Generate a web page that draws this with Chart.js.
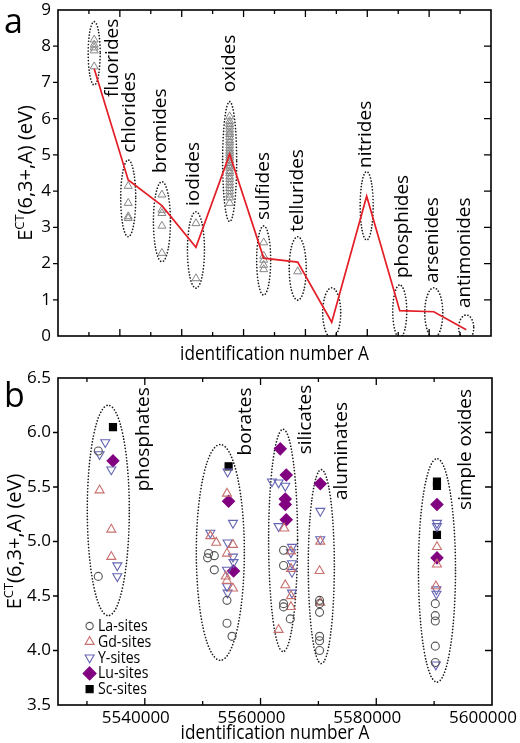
<!DOCTYPE html>
<html>
<head>
<meta charset="utf-8">
<title>Charge-transfer energies</title>
<script src="https://cdn.jsdelivr.net/npm/chart.js@4.4.0/dist/chart.umd.min.js"></script>
<style>
  html, body { margin: 0; padding: 0; background: #fff; }
  #wrap { position: relative; width: 520px; height: 743px; }
  #chartA { position: absolute; left: 0; top: 0; }
  #chartB { position: absolute; left: 0; top: 370px; }
</style>
</head>
<body>
<div id="wrap">
  <canvas id="chartA" width="520" height="370"></canvas>
  <canvas id="chartB" width="520" height="373"></canvas>
</div>
<script>
const FONT = "'Open Sans', 'DejaVu Sans', sans-serif";

// ---- panel a: E_CT per anion family ----
const anionGroups = ['fluorides', 'chlorides', 'bromides', 'iodides', 'oxides', 'sulfides',
  'tellurides', '', 'nitrides', 'phosphides', 'arsenides', 'antimonides'];
const anionA = [1.17, 2.27, 3.36, 4.46, 5.55, 6.65, 7.75, 8.85, 9.98, 11.05, 12.15, 13.2];
const meanEct = [7.38, 4.31, 3.60, 2.45, 5.02, 2.15, 2.04, 0.38, 3.86, 0.70, 0.67, 0.17];

const fluorideEct = [8.18, 8.04, 7.96, 7.88, 7.44];
const chlorideEct = [4.14, 3.67, 3.30, 3.25];
const bromideEct = [3.90, 3.48, 3.39, 3.04, 2.29];
const iodideEct = [3.11, 1.59];
const oxideEct = [6.06, 5.93, 5.85, 5.78, 5.70, 5.62, 5.57, 5.49, 5.40, 5.34, 5.26, 5.18,
  5.11, 5.05, 4.98, 4.92, 4.85, 4.77, 4.70, 4.64, 4.55, 4.49, 4.40, 4.33, 4.24, 4.16,
  4.08, 3.99, 3.90, 3.82, 3.67];
const sulfideEct = [2.58, 2.21, 2.10, 1.96, 1.84];
const tellurideEct = [1.78];
const groupEct = [fluorideEct, chlorideEct, bromideEct, iodideEct, oxideEct, sulfideEct,
  tellurideEct, [], [], [], [], []];

// dotted loops round each family (top / bottom in eV)
const loopTopA = [8.68, 4.86, 4.26, 3.43, 6.47, 3.04, 2.74, 1.33, 4.54, 1.41, 1.33, 0.58];
const loopBottomA = [6.93, 2.74, 2.05, 1.32, 3.16, 1.13, 0.99, -0.05, 2.65, -0.05, -0.05, -0.12];

// ---- panel b: E_CT of oxide hosts by cation site ----
const hostGroups = ['phosphates', 'borates', 'silicates', 'aluminates', 'simple oxides'];
const hostA = [5533690, 5553050, 5563900, 5570500, 5590490];
const loopTopB = [6.25, 5.89, 6.03, 5.66, 5.76];
const loopBottomB = [4.32, 3.91, 3.99, 3.88, 3.71];
const xTicksB = [5530000, 5540000, 5550000, 5560000, 5570000, 5580000, 5590000, 5600000];
const xTickLabelsB = ['5540000', '5560000', '5580000', '5600000'];
const siteNames = ['La-sites', 'Gd-sites', 'Y-sites', 'Lu-sites', 'Sc-sites'];

const laSites = [[5531960, 5.83], [5531960, 4.68],
  [5551020, 4.89], [5552010, 4.87], [5550850, 4.85], [5552010, 4.74], [5554200, 4.46],
  [5554200, 4.25], [5555070, 4.13],
  [5563980, 4.92], [5563980, 4.78], [5563980, 4.43], [5563980, 4.40], [5565140, 4.29],
  [5570200, 4.46], [5570200, 4.43], [5570200, 4.35], [5570200, 4.13], [5570200, 4.09], [5570200, 4.00],
  [5590200, 4.43], [5590200, 4.32], [5590200, 4.27], [5590200, 4.04], [5590200, 3.89]];
const gdSites = [[5532190, 5.47], [5534210, 5.11], [5534210, 4.86],
  [5554200, 5.44], [5551320, 5.05], [5552350, 4.99], [5555240, 4.97], [5554200, 4.89],
  [5554000, 4.68], [5554200, 4.64], [5555240, 4.57],
  [5564100, 5.12], [5565260, 4.91], [5565260, 4.75], [5564280, 4.60], [5565260, 4.50],
  [5565260, 4.40], [5563120, 4.19],
  [5570330, 5.00], [5570200, 4.73], [5570330, 4.44],
  [5590490, 4.95], [5590490, 4.79], [5590300, 4.59]];
const ySites = [[5533170, 5.91], [5532190, 5.80], [5534210, 5.66], [5535250, 4.78], [5535250, 4.68],
  [5554310, 5.64], [5555240, 5.17], [5551320, 5.08], [5554310, 4.99], [5555240, 4.86],
  [5555340, 4.81], [5554200, 4.74], [5554200, 4.59], [5554310, 4.53],
  [5561980, 5.55], [5563120, 5.54], [5564280, 5.51], [5563120, 5.14], [5565440, 4.95],
  [5565260, 4.90], [5565440, 4.80], [5565440, 4.72], [5565440, 4.53],
  [5570330, 5.28], [5570330, 5.02],
  [5590490, 5.17], [5590490, 5.14], [5590400, 4.56], [5590400, 4.52], [5590300, 3.87]];
const luSites = [[5534500, 5.74],
  [5554480, 5.37], [5555340, 4.73],
  [5563410, 5.85], [5564450, 5.61], [5564280, 5.39], [5564280, 5.34], [5564450, 5.20],
  [5570330, 5.53],
  [5590490, 5.34], [5590490, 4.85]];
const scSites = [[5534500, 6.05], [5554480, 5.69], [5590490, 5.55], [5590490, 5.51], [5590490, 5.06]];

// ---- annotation layout (not data) ----
const loopHalfPxA = [6, 7.5, 8.5, 8.5, 7, 7, 8.5, 9, 6.5, 7, 9, 7.5];
const labelAtA = [[1.75, 6.60], [2.33, 5.06], [3.31, 4.50], [4.40, 3.59], [5.56, 6.73], [6.66, 3.20],
  [7.74, 2.88], null, [9.93, 4.64], [11.15, 1.60], [12.12, 1.46], [13.16, 0.77]];
const loopHalfWidthB = [3630, 4150, 2500, 2250, 3200];
const labelAtB = [[5539790, 5.46], [5557370, 5.79], [5567730, 5.80], [5574080, 5.38], [5595380, 5.29]];

const toPoints = pairs => pairs.map(p => ({ x: p[0], y: p[1] }));

function drawMarker(ctx, style, r, rot, x, y) {
  ctx.beginPath();
  if (style === 'circle') {
    ctx.arc(x, y, r, 0, Math.PI * 2);
  } else if (style === 'triangle') {
    let a = rot * Math.PI / 180;
    ctx.moveTo(x + Math.sin(a) * r, y - Math.cos(a) * r);
    a += Math.PI * 2 / 3;
    ctx.lineTo(x + Math.sin(a) * r, y - Math.cos(a) * r);
    a += Math.PI * 2 / 3;
    ctx.lineTo(x + Math.sin(a) * r, y - Math.cos(a) * r);
    ctx.closePath();
  } else if (style === 'rectRot') {
    ctx.moveTo(x, y - r); ctx.lineTo(x + r, y); ctx.lineTo(x, y + r); ctx.lineTo(x - r, y);
    ctx.closePath();
  } else {
    const h = r * Math.SQRT1_2;
    ctx.rect(x - h, y - h, 2 * h, 2 * h);
  }
  ctx.fill();
  ctx.stroke();
}

// frame with inward ticks, dotted loops, rotated labels, titles, legend
function makeDecor(cfg) {
  return {
    id: 'decor' + cfg.letter,
    beforeDatasetsDraw(chart) {
      const { ctx, chartArea: a, scales: { x, y } } = chart;
      ctx.save();
      ctx.beginPath();
      ctx.rect(a.left, a.top, a.width, a.height);
      ctx.clip();
      ctx.strokeStyle = '#1a1a1a';
      ctx.lineWidth = 1.7;
      ctx.lineCap = 'round';
      ctx.setLineDash([0.01, 3.1]);
      cfg.loops.forEach(l => {
        const cx = x.getPixelForValue(l.x);
        const top = y.getPixelForValue(l.top);
        const bot = y.getPixelForValue(l.bottom);
        const rx = l.halfPx != null ? l.halfPx : Math.abs(x.getPixelForValue(l.x + l.half) - cx);
        ctx.beginPath();
        ctx.ellipse(cx, (top + bot) / 2, rx, (bot - top) / 2, 0, 0, Math.PI * 2);
        ctx.stroke();
      });
      ctx.restore();
    },
    afterDraw(chart) {
      const { ctx, chartArea: a, scales: { x, y } } = chart;
      ctx.save();
      ctx.setLineDash([]);
      ctx.strokeStyle = '#000';
      ctx.lineWidth = 1.6;
      ctx.strokeRect(a.left, a.top, a.width, a.height);

      ctx.lineWidth = 1.3;
      ctx.beginPath();
      x.ticks.forEach(t => {
        if (t.value <= x.min || t.value >= x.max) return;
        const px = x.getPixelForValue(t.value);
        const q = t.value / cfg.majorX;
        const len = Math.abs(q - Math.round(q)) < 1e-6 ? 7 : 4;
        ctx.moveTo(px, a.bottom); ctx.lineTo(px, a.bottom - len);
        ctx.moveTo(px, a.top); ctx.lineTo(px, a.top + len);
      });
      y.ticks.forEach(t => {
        if (t.value <= y.min || t.value >= y.max) return;
        const py = y.getPixelForValue(t.value);
        ctx.moveTo(a.left, py); ctx.lineTo(a.left - 5, py);
        ctx.moveTo(a.right, py); ctx.lineTo(a.right - 7, py);
      });
      ctx.stroke();

      // family labels
      ctx.fillStyle = '#000';
      ctx.font = '19px ' + FONT;
      ctx.textAlign = 'left';
      ctx.textBaseline = 'middle';
      cfg.labels.forEach(l => {
        if (!l.text || !l.at) return;
        ctx.save();
        ctx.translate(x.getPixelForValue(l.at[0]), y.getPixelForValue(l.at[1]));
        ctx.rotate(-Math.PI / 2);
        ctx.fillText(l.text, 0, 0);
        ctx.restore();
      });

      // y title with superscript
      ctx.save();
      ctx.translate(cfg.yTitleX, (a.top + a.bottom) / 2);
      ctx.rotate(-Math.PI / 2);
      ctx.textBaseline = 'alphabetic';
      const big = '20px ' + FONT, small = '13px ' + FONT;
      const rest = '(6,3+,A) (eV)';
      ctx.font = big;
      const wE = ctx.measureText('E').width, wR = ctx.measureText(rest).width;
      ctx.font = small;
      const wS = ctx.measureText('CT').width;
      let sx = -(wE + wS + wR) / 2;
      ctx.font = big; ctx.fillText('E', sx, 0); sx += wE;
      ctx.font = small; ctx.fillText('CT', sx, -8); sx += wS;
      ctx.font = big; ctx.fillText(rest, sx, 0);
      ctx.restore();

      // x title
      ctx.save();
      ctx.font = '20px ' + FONT;
      ctx.textAlign = 'center';
      ctx.textBaseline = 'alphabetic';
      ctx.translate((a.left + a.right) / 2, cfg.xTitleY);
      ctx.scale(0.86, 1);
      ctx.fillText('identification number A', 0, 0);
      ctx.restore();

      // panel letter
      ctx.font = '34px ' + FONT;
      ctx.textAlign = 'left';
      ctx.textBaseline = 'alphabetic';
      ctx.fillText(cfg.letter, 4, cfg.letterY);

      // legend in the lower left of the plot
      if (cfg.legend) {
        chart.data.datasets.forEach((ds, i) => {
          const lx = a.left + 31.6, ly = a.bottom - 79 + i * 15.8;
          ctx.save();
          ctx.strokeStyle = ds.borderColor;
          ctx.fillStyle = ds.backgroundColor;
          ctx.lineWidth = ds.borderWidth;
          drawMarker(ctx, ds.pointStyle, ds.legendRadius, ds.pointRotation || 0, lx, ly);
          ctx.restore();
          ctx.save();
          ctx.fillStyle = '#000';
          ctx.font = '16px ' + FONT;
          ctx.textBaseline = 'middle';
          ctx.translate(lx + 8.4, ly + 0.5);
          ctx.scale(0.88, 1);
          ctx.fillText(ds.label, 0, 0);
          ctx.restore();
        });
      }
      ctx.restore();
    }
  };
}

const axisFont = { family: FONT, size: 17 };
const hidden = { display: false, drawTicks: false };

// ---------- panel a ----------
new Chart(document.getElementById('chartA'), {
  type: 'scatter',
  data: {
    datasets: [
      {
        label: 'mean',
        data: anionA.map((v, i) => ({ x: v, y: meanEct[i] })),
        showLine: true,
        borderColor: '#e41e26',
        borderWidth: 1.7,
        pointRadius: 0,
        tension: 0
      },
      {
        label: 'compounds',
        data: groupEct.flatMap((vals, i) => vals.map(v => ({ x: anionA[i], y: v }))),
        pointStyle: 'triangle',
        pointRadius: 4.6,
        borderColor: '#858585',
        backgroundColor: 'rgba(255,255,255,0)',
        borderWidth: 1
      }
    ]
  },
  options: {
    responsive: false,
    animation: false,
    devicePixelRatio: 1,
    events: [],
    layout: { padding: { top: 10, right: 29, left: 0, bottom: 0 } },
    plugins: { legend: { display: false }, tooltip: { enabled: false } },
    scales: {
      x: {
        type: 'linear', min: 0, max: 14,
        ticks: { display: false, stepSize: 1 },
        grid: hidden, border: { display: false },
        afterFit: s => { s.height = 34; s.paddingLeft = 0; s.paddingRight = 0; }
      },
      y: {
        type: 'linear', min: 0, max: 9,
        ticks: { stepSize: 1, padding: 7, color: '#000', font: axisFont },
        grid: hidden, border: { display: false },
        afterFit: s => { s.width = 58; s.paddingTop = 0; s.paddingBottom = 0; }
      }
    }
  },
  plugins: [makeDecor({
    letter: 'a', letterY: 33, yTitleX: 31.5, xTitleY: 360, majorX: 2, legend: false,
    loops: anionA.map((v, i) => ({ x: v, top: loopTopA[i], bottom: loopBottomA[i], halfPx: loopHalfPxA[i] })),
    labels: anionGroups.map((t, i) => ({ text: t, at: labelAtA[i] }))
  })]
});

// ---------- panel b ----------
const siteStyle = [
  { data: laSites, pointStyle: 'circle', r: 4, lr: 3.6, border: '#555555', fill: 'rgba(255,255,255,0)', rot: 0 },
  { data: gdSites, pointStyle: 'triangle', r: 5.2, lr: 5.2, border: '#c8706e', fill: 'rgba(255,255,255,0)', rot: 0 },
  { data: ySites, pointStyle: 'triangle', r: 5.2, lr: 5.2, border: '#6464b4', fill: 'rgba(255,255,255,0)', rot: 180 },
  { data: luSites, pointStyle: 'rectRot', r: 6, lr: 6.5, border: '#800080', fill: '#800080', rot: 0 },
  { data: scSites, pointStyle: 'rect', r: 5, lr: 5, border: '#000000', fill: '#000000', rot: 0 }
];

new Chart(document.getElementById('chartB'), {
  type: 'scatter',
  data: {
    datasets: siteStyle.map((s, i) => ({
      label: siteNames[i],
      data: toPoints(s.data),
      pointStyle: s.pointStyle,
      pointRotation: s.rot,
      pointRadius: s.r,
      legendRadius: s.lr,
      borderColor: s.border,
      backgroundColor: s.fill,
      borderWidth: 1.1
    }))
  },
  options: {
    responsive: false,
    animation: false,
    devicePixelRatio: 1,
    events: [],
    layout: { padding: { top: 8, right: 28, left: 0, bottom: 0 } },
    plugins: { legend: { display: false }, tooltip: { enabled: false } },
    scales: {
      x: {
        type: 'linear', min: 5525000, max: 5600000,
        afterBuildTicks: s => { s.ticks = xTicksB.map(v => ({ value: v })); },
        ticks: {
          autoSkip: false, maxRotation: 0, minRotation: 0, padding: 3, labelOffset: -9,
          color: '#000', font: axisFont,
          callback: v => (xTickLabelsB.includes(String(Math.round(v))) ? String(Math.round(v)) : '')
        },
        grid: hidden, border: { display: false },
        afterFit: s => { s.height = 38; s.paddingLeft = 0; s.paddingRight = 0; }
      },
      y: {
        type: 'linear', min: 3.5, max: 6.5,
        ticks: { stepSize: 0.5, padding: 7, color: '#000', font: axisFont, callback: v => v.toFixed(1) },
        grid: hidden, border: { display: false },
        afterFit: s => { s.width = 58; s.paddingTop = 0; s.paddingBottom = 0; }
      }
    }
  },
  plugins: [makeDecor({
    letter: 'b', letterY: 37, yTitleX: 21, xTitleY: 369, majorX: 20000, legend: true,
    loops: hostA.map((v, i) => ({ x: v, top: loopTopB[i], bottom: loopBottomB[i], half: loopHalfWidthB[i] })),
    labels: hostGroups.map((t, i) => ({ text: t, at: labelAtB[i] }))
  })]
});
</script>
</body>
</html>
